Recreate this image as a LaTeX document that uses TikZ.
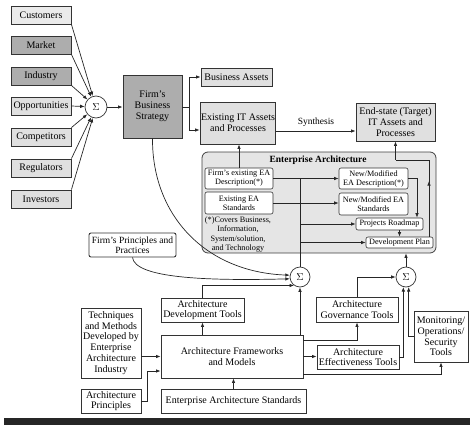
\documentclass[tikz,border=0pt]{standalone}
\usepackage{fontspec}
\setmainfont{Liberation Serif}
\usetikzlibrary{arrows.meta,calc}
\begin{document}
\begin{tikzpicture}[x=1pt,y=-1pt,
  >={Latex[length=4.5pt,width=3.5pt]},
  conn/.style={draw=black!85,line width=0.7pt},
  bx/.style={draw=black!80,line width=0.9pt,inner sep=1pt,align=center,font=\fontsize{10}{10.8}\selectfont},
  lgray/.style={bx,fill=black!12},
  dgray/.style={bx,fill=black!32},
  wbox/.style={bx,fill=white},
  ibox/.style={bx,fill=white,rounded corners=2pt,line width=0.6pt,font=\fontsize{8.2}{9}\selectfont},
  sig/.style={circle,draw=black!80,line width=0.7pt,fill=white,inner sep=0pt,minimum size=20pt,font=\fontsize{10}{10}\selectfont}
]
\useasboundingbox (0,0) rectangle (474,426);

% left column
\node[lgray,fill=black!8,minimum width=60,minimum height=18] (cust) at (41,15) {Customers};
\node[dgray,minimum width=60,minimum height=18] (market) at (41,45) {Market};
\node[dgray,minimum width=60,minimum height=18] (industry) at (41,76) {Industry};
\node[lgray,minimum width=60,minimum height=18] (opp) at (41,106) {Opportunities};
\node[lgray,minimum width=60,minimum height=18] (comp) at (41,137) {Competitors};
\node[lgray,minimum width=60,minimum height=18] (reg) at (41,168) {Regulators};
\node[lgray,minimum width=60,minimum height=18] (inv) at (41,199) {Investors};

\node[sig,minimum size=22pt] (s1) at (96,107) {$\Sigma$};

\node[dgray,minimum width=59,minimum height=63] (strat) at (152.5,106.5) {Firm’s\\Business\\Strategy};
\node[lgray,minimum width=71,minimum height=18] (biz) at (236.5,77) {Business Assets};
\node[lgray,minimum width=74,minimum height=42] (eit) at (238,123) {Existing IT Assets\\and Processes};
\node[lgray,minimum width=79,minimum height=38] (end) at (395.5,122) {End-state (Target)\\IT Assets and\\Processes};

% EA box
\node[draw=black!75,line width=0.8pt,fill=black!10,rounded corners=6pt,minimum width=234,minimum height=101] (ea) at (319,202.5) {};
\node[font=\fontsize{9.5}{10}\selectfont\bfseries] (eatitle) at (318,160) {Enterprise Architecture};
\node[ibox,minimum width=68,minimum height=21] (ead) at (239,178.5) {Firm’s existing EA\\Description(*)};
\node[ibox,minimum width=68,minimum height=22] (eas) at (239,203) {Existing EA\\Standards};
\node[align=center,font=\fontsize{8.2}{9.3}\selectfont,inner sep=0pt] (covers) at (238,234.5) {(*)Covers Business,\\Information,\\System/solution,\\and Technology};
\node[ibox,minimum width=69,minimum height=21] (nd) at (373.5,178.5) {New/Modified\\EA Description(*)};
\node[ibox,minimum width=69,minimum height=22] (ns) at (373.5,204) {New/Modified EA\\Standards};
\node[ibox,minimum width=67,minimum height=12] (road) at (389.5,224) {Projects Roadmap};
\node[ibox,minimum width=67,minimum height=11] (dev) at (399.5,242.5) {Development Plan};

% sigmas
\node[sig] (s2) at (300,277) {$\Sigma$};
\node[sig] (s3) at (406,277) {$\Sigma$};

% lower boxes
\node[wbox,rounded corners=2pt,minimum width=87,minimum height=24,font=\fontsize{9.5}{10.5}\selectfont] (princ) at (132.5,245) {Firm’s Principles and\\Practices};
\node[wbox,minimum width=83,minimum height=24] (devt) at (202.5,310) {Architecture\\Development Tools};
\node[wbox,minimum width=142,minimum height=43] (fw) at (232,356.5) {Architecture Frameworks\\and Models};
\node[wbox,minimum width=60,minimum height=70,font=\fontsize{10}{10.9}\selectfont] (tech) at (111,343) {Techniques\\and Methods\\Developed by\\Enterprise\\Architecture\\Industry};
\node[wbox,minimum width=60,minimum height=24] (ap) at (111,401) {Architecture\\Principles};
\node[wbox,minimum width=145,minimum height=24] (eastd) at (233.5,401) {Enterprise Architecture Standards};
\node[wbox,minimum width=82,minimum height=25] (gov) at (357,309.5) {Architecture\\Governance Tools};
\node[wbox,minimum width=82,minimum height=24] (eff) at (358,357) {Architecture\\Effectiveness Tools};
\node[wbox,minimum width=54,minimum height=51] (mon) at (441,336.5) {Monitoring/\\Operations/\\Security\\Tools};

% inputs to s1
\draw[conn,->] (cust.south east) -- (s1);
\draw[conn,->] (market.south east) -- (s1);
\draw[conn,->] (industry.south east) -- (s1);
\draw[conn,->] (opp.east) -- (s1);
\draw[conn,->] (comp.north east) -- (s1);
\draw[conn,->] (reg.north east) -- (s1);
\draw[conn,->] (inv.north east) -- (s1);
\draw[conn,->] (s1.east) -- (s1.east -| strat.west);

% strategy branches
\coordinate (br) at (189,107);
\draw[conn] (strat.east |- br) -- (br);
\draw[conn,->] (br) |- (biz.west);
\draw[conn,->] (br) |- ([yshift=-7pt]eit.west);

% synthesis
\draw[conn,->] ([yshift=-8pt]eit.east) -- ([yshift=-8pt]eit.east -| end.west)
  node[midway,above=1pt,font=\fontsize{9.5}{10}\selectfont] {Synthesis};

% EA internals
\draw[conn,->] (ead.north) -- (ead.north |- eit.south);
\draw[conn,->] (ead.east) -- (nd.west);
\draw[conn,->] (eas.east) -- (eas.east -| ns.west);
\draw[conn] (s2.north) -- (s2.north |- ead.east);
\draw[conn,->] (s2.north |- road.west) -- (road.west);
\draw[conn,->] (s2.north |- dev.west) -- (dev.west);
\coordinate (c417) at (417,0);
\draw[conn,->] (nd.east) -| (road.north -| c417);
\draw[conn,->] (dev.north |- road.south) -- (dev.north);
\coordinate (k1) at (429,160);
\coordinate (k2) at (395.5,160);
\draw[conn,->] (dev.north -| k1) -- (429,181);
\draw[conn] (429,183) -- (k1) -- (k2);
\draw[conn,->] (k2) -- (end.south);

% curves into s2
\draw[conn,->] (strat.south) .. controls (152,215) and (205,272) .. (s2.170);
\draw[conn,->] (princ.south) .. controls (135,278) and (205,281) .. (s2.190);
\draw[conn,->] (devt.north) |- (s2.235);
\draw[conn,->] (fw.north -| s2.south) -- (s2.south);
\draw[conn,->] (fw.north -| devt.south) -- (devt.south);

% into frameworks
\draw[conn,->] (tech.east |- fw.west) -- (fw.west);
\draw[conn,->] (ap.east) -- ++(6,0) |- ([yshift=-14.5pt]fw.west);
\draw[conn,->] (eastd.north) -- (eastd.north |- fw.south);

% out of frameworks
\draw[conn,->] ([yshift=16.5pt]fw.east) -| (gov.south);
\draw[conn,->] (fw.east) -- (fw.east -| eff.west);
\draw[conn,->] ([yshift=-17.5pt]fw.east) -| (mon.south);

% into s3
\draw[conn,->] (gov.north) |- (s3.west);
\draw[conn,->] (eff.east) -| (s3.255);
\draw[conn,->] (mon.west) -| (s3.285);
\draw[conn,->] (s3.north) -- (s3.north |- ea.south);

% bottom bar
\fill[black!85] (4,418) rectangle (470,425);
\end{tikzpicture}
\end{document}
